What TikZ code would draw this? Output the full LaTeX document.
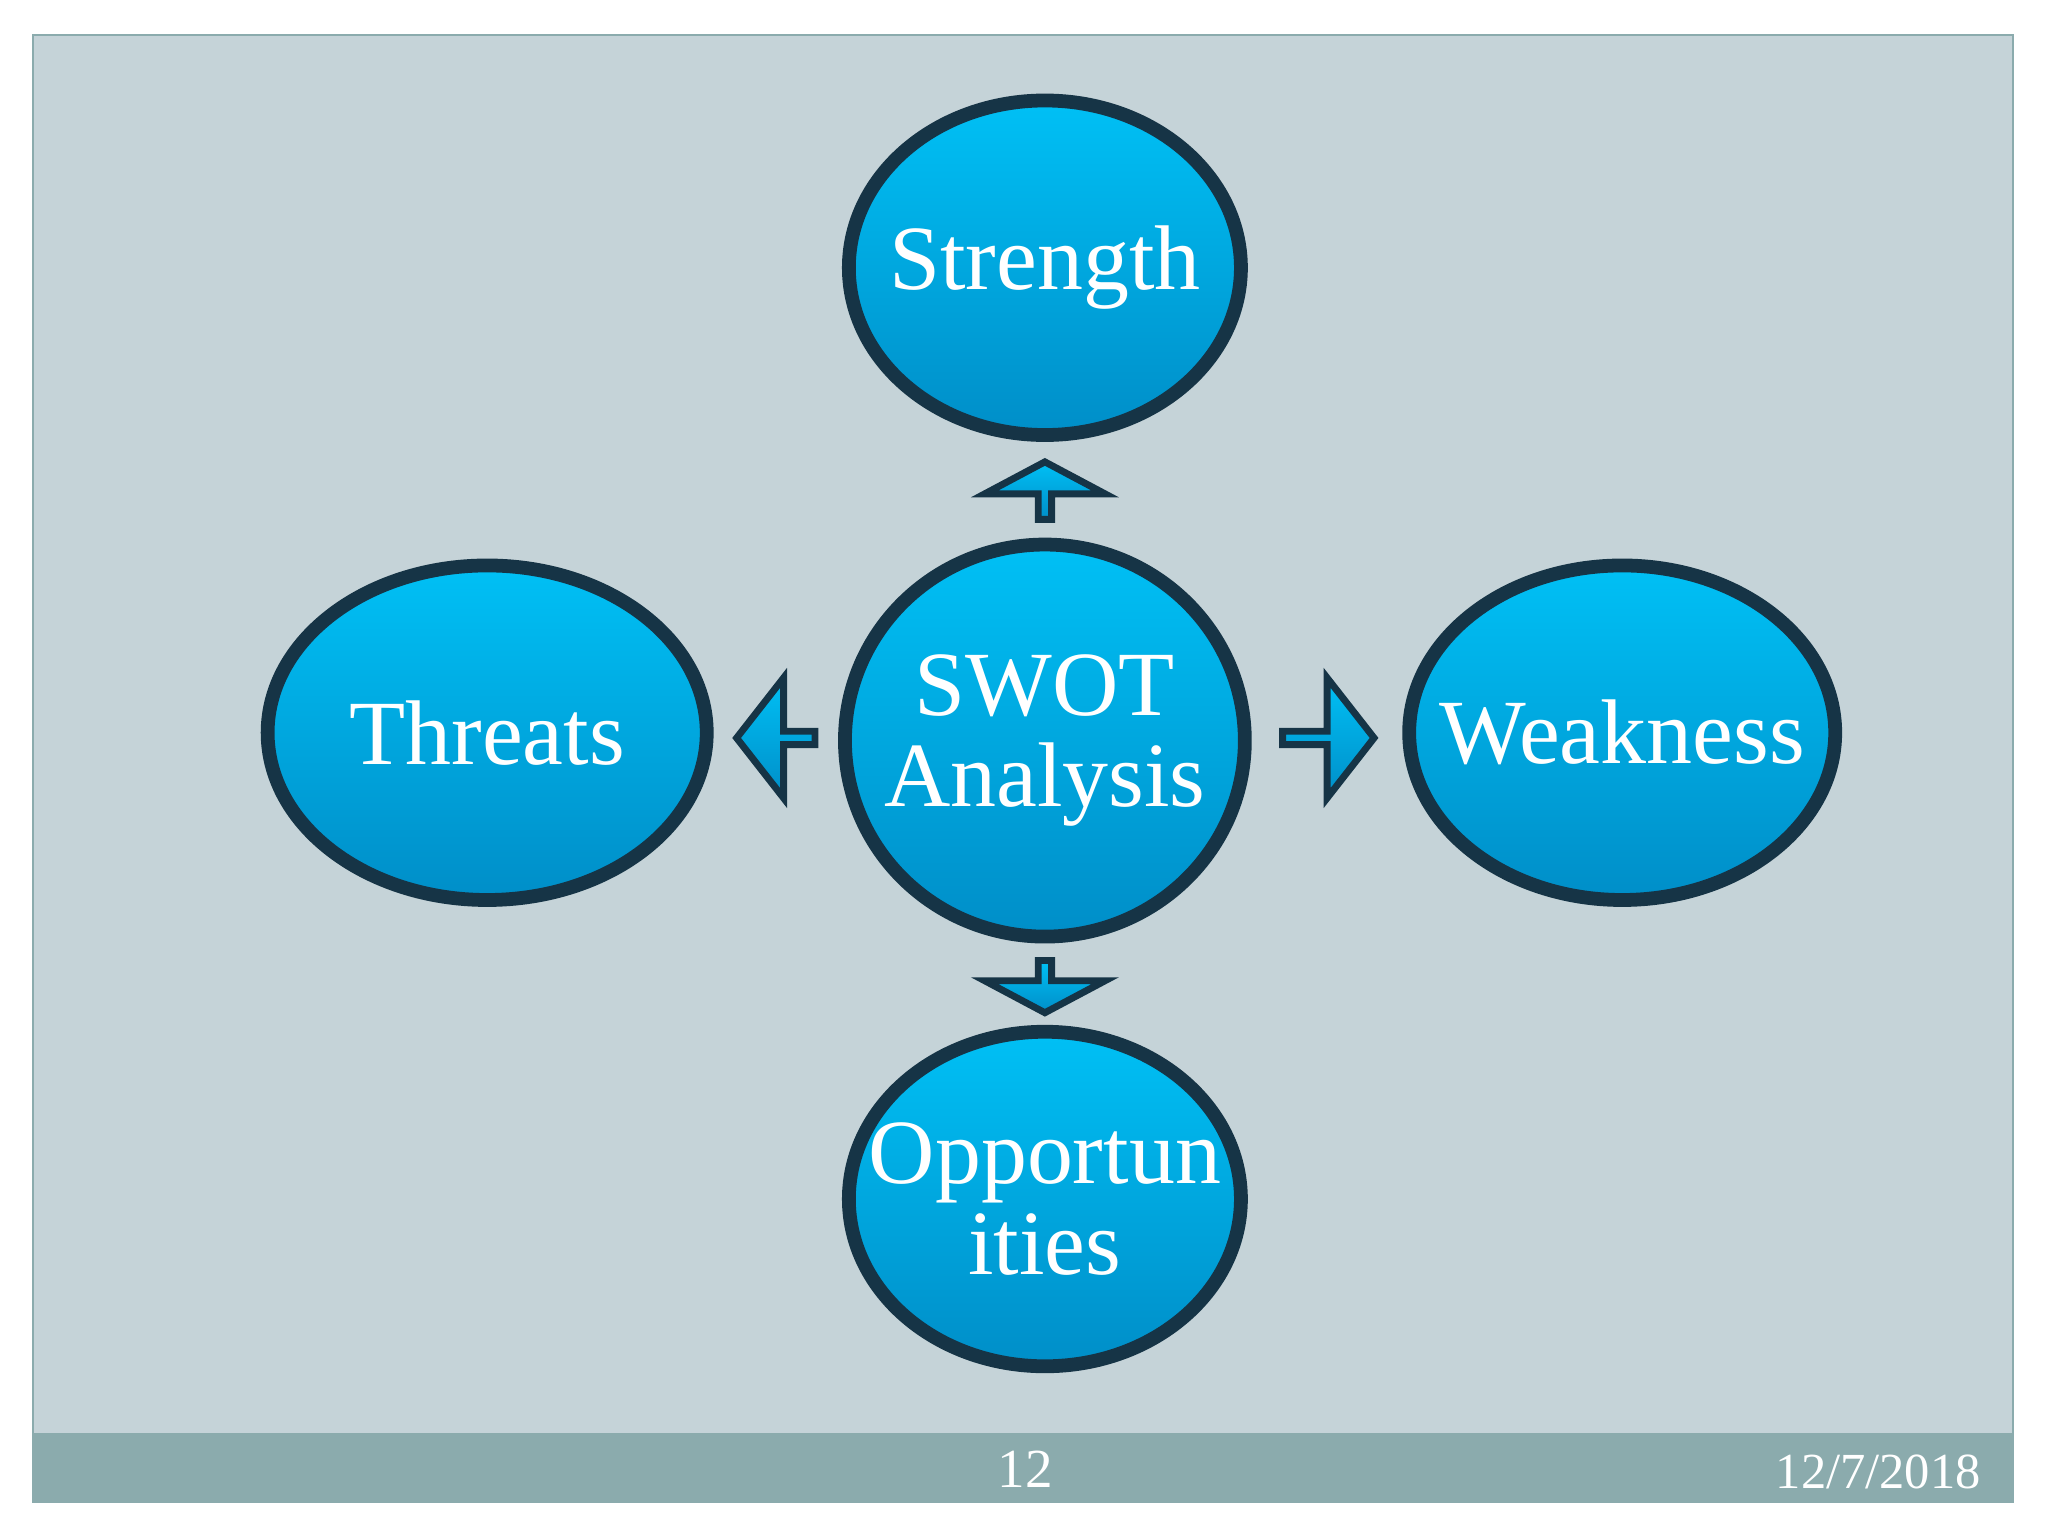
\documentclass[tikz,border=0pt]{standalone}
\usepackage{fontspec}
\setmainfont{Liberation Serif}
\usetikzlibrary{shapes.arrows,shapes.geometric}
\definecolor{slidebg}{RGB}{197,211,216}
\definecolor{footbg}{RGB}{139,171,173}
\definecolor{ballhi}{RGB}{0,192,245}
\definecolor{balllo}{RGB}{0,142,200}
\definecolor{rim}{RGB}{22,52,70}
\tikzset{
  ball/.style={ellipse, draw=rim, line width=3pt, top color=ballhi, bottom color=balllo,
    inner sep=0pt},
  balltext/.style={text=white, align=center, font=\fontsize{20}{20}\selectfont, inner sep=0pt},
  blockarrow/.style={single arrow, draw=rim, line width=1.5pt, top color=ballhi, bottom color=balllo,
    minimum width=0.92cm, single arrow head extend=0.21cm, single arrow head indent=0pt,
    inner sep=0pt}
}
\begin{document}
\begin{tikzpicture}[x=0.01cm,y=-0.01cm]
\useasboundingbox (0,0) rectangle (1568,1176);
\fill[white] (0,0) rectangle (1568,1176);
\draw[fill=slidebg, draw=footbg] (25,27) rectangle (1541,1150);
\fill[footbg] (25,1097) rectangle (1541,1150);
\node[text=white, font=\fontsize{12}{14}\selectfont] (page) at (785,1125) {12};
\node[text=white, font=\fontsize{11}{13}\selectfont] (date) at (1438,1127) {12/7/2018};

% balls
\node[ball, minimum width=3.0cm, minimum height=2.56cm] (swot-s) at (800,205) {};
\node[ball, minimum width=3.36cm, minimum height=2.56cm] (swot-t) at (373,561) {};
\node[ball, minimum width=3.26cm, minimum height=2.56cm] (swot-w) at (1242,561) {};
\node[ball, minimum width=3.06cm, minimum height=3.0cm] (swot-c) at (800,567) {};
\node[ball, minimum width=3.0cm, minimum height=2.56cm] (swot-o) at (800,918) {};
\node[balltext] (lbl-s) at (swot-s) {Strength};
\node[balltext] (lbl-t) at (swot-t) {Threats};
\node[balltext] (lbl-w) at (swot-w) {Weakness};
\node[balltext] (lbl-c) at (swot-c) {SWOT\\Analysis};
\node[balltext] (lbl-o) at (swot-o) {Opportun\\ities};

% arrows
\node[blockarrow, shape border rotate=90, minimum height=0.44cm, single arrow tip angle=124] (arr-up) at (800,377) {};
\node[blockarrow, shape border rotate=270, minimum height=0.4cm, single arrow tip angle=124] (arr-down) at (800,754) {};
\node[blockarrow, shape border rotate=180, minimum height=0.6cm, single arrow tip angle=104] (arr-left) at (596,565) {};
\node[blockarrow, shape border rotate=0, minimum height=0.7cm, single arrow tip angle=104] (arr-right) at (1015,565) {};
\end{tikzpicture}
\end{document}
